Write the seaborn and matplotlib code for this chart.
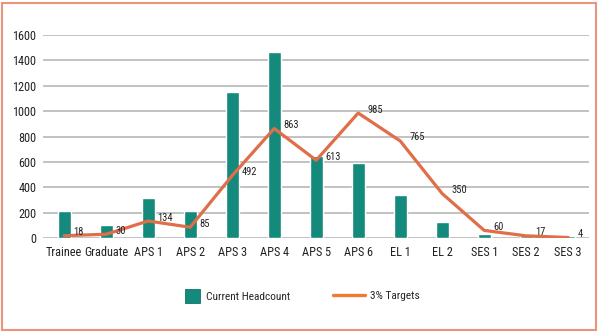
import matplotlib
matplotlib.use("Agg")
import matplotlib.pyplot as plt
import matplotlib.font_manager as fm
import seaborn as sns
import pandas as pd
from matplotlib.patches import Rectangle, Patch
from matplotlib.lines import Line2D

categories = ["Trainee", "Graduate", "APS 1", "APS 2", "APS 3", "APS 4", "APS 5",
              "APS 6", "EL 1", "EL 2", "SES 1", "SES 2", "SES 3"]
headcount = [215, 105, 318, 215, 1150, 1465, 645, 590, 340, 125, 32, 12, 12]
targets = [18, 30, 134, 85, 492, 863, 613, 985, 765, 350, 60, 17, 4]

sns.set_theme(style="white")
plt.rcParams['font.family'] = ['Liberation Sans', 'DejaVu Sans']

# pick a narrow font if one is installed
def is_narrow(f):
    st = f.stretch
    if isinstance(st, str):
        n = st in ('condensed', 'semi-condensed', 'extra-condensed', 'ultra-condensed')
    else:
        n = st < 500
    return n or 'Narrow' in f.name or 'Condensed' in f.name

narrow = [f for f in fm.fontManager.ttflist if is_narrow(f)
          and f.style == 'normal' and f.weight in (400, 'normal', 'regular')]
pref = ['Liberation Sans Narrow', 'Roboto Condensed', 'DejaVu Sans', 'Noto Sans',
        'Open Sans', 'Arial Narrow']
chosen = None
for p in pref:
    for f in narrow:
        if f.name.startswith(p):
            chosen = f.fname
            break
    if chosen:
        break
if chosen is None and narrow:
    chosen = narrow[0].fname

def fp(size):
    if chosen:
        return fm.FontProperties(fname=chosen, size=size)
    return fm.FontProperties(family=['Liberation Sans', 'DejaVu Sans'], size=size * 0.82)

bar_color = "#138a7c"
line_color = "#e06e48"
legend_line_color = "#ee7a35"

df = pd.DataFrame({"cat": categories, "head": headcount, "target": targets})

fig = plt.figure(figsize=(6.0, 3.34), dpi=100)
ax = fig.add_axes([0.072, 0.2874, 0.91, 0.6078])

sns.barplot(data=df, x="cat", y="head", color=bar_color, width=0.31,
            saturation=1, ax=ax, zorder=2)
sns.lineplot(x=list(range(len(categories))), y=targets, color=line_color,
             linewidth=2.3, ax=ax, zorder=3)

for i, v in enumerate(targets):
    ax.annotate(str(v), (i, v), xytext=(6.5, 2.5), textcoords="offset points",
                ha="left", va="center", fontproperties=fp(7.6), color="#222222", zorder=4)

ax.set_ylim(0, 1600)
ax.set_xlim(-0.5, len(categories) - 0.5)
ax.set_yticks(range(0, 1601, 200))
ax.yaxis.grid(True, color="#b8b8b8", linewidth=1.2)
ax.set_axisbelow(True)
for s in ax.spines.values():
    s.set_visible(False)
ax.set_xlabel("")
ax.set_ylabel("")
ax.tick_params(axis="both", length=0, colors="#222222")
ax.tick_params(axis="x", pad=6)
ax.tick_params(axis="y", pad=5)
for lab in ax.get_xticklabels() + ax.get_yticklabels():
    lab.set_fontproperties(fp(8.8))

ly = 1 - 296 / 334
leg1 = fig.legend([Patch(facecolor=bar_color, edgecolor="#0e7468", linewidth=0.6)],
                  ["Current Headcount"], loc="center left",
                  bbox_to_anchor=(185 / 600, ly), frameon=False, prop=fp(8.2),
                  handlelength=1.3, handleheight=1.55, handletextpad=0.55,
                  borderpad=0, borderaxespad=0)
leg2 = fig.legend([Line2D([0], [0], color=legend_line_color, linewidth=2.4)],
                  ["3% Targets"], loc="center left",
                  bbox_to_anchor=(333 / 600, ly), frameon=False, prop=fp(8.2),
                  handlelength=2.8, handletextpad=0.45,
                  borderpad=0, borderaxespad=0)

fig.add_artist(Rectangle((0.004, 0.012), 0.99, 0.978, transform=fig.transFigure,
                         fill=False, edgecolor="#e8957c", linewidth=1.5))

fig.savefig("out.png", dpi=100)
